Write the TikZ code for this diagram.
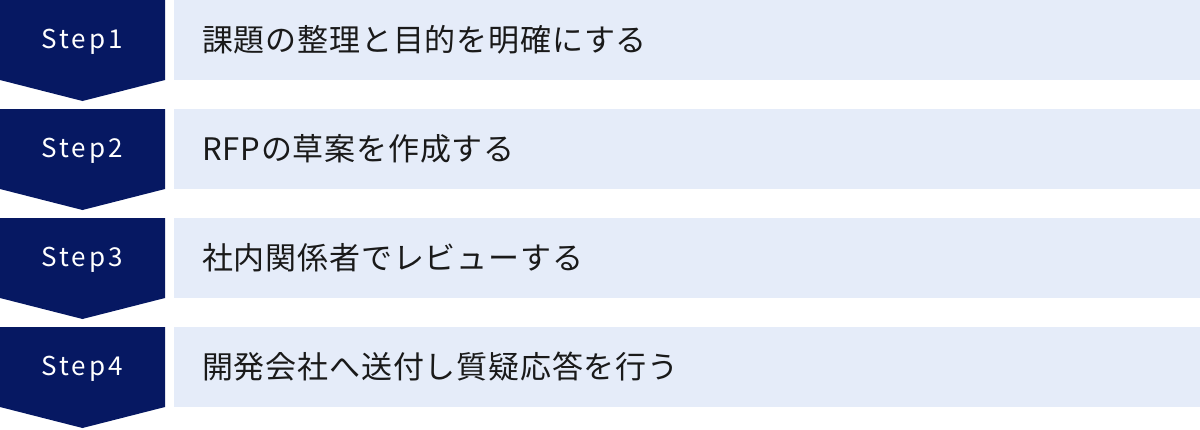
\documentclass[tikz,border=0pt]{standalone}
\usepackage{fontspec}
\newfontfamily\jpfont[LetterSpace=2.6]{Noto Sans CJK JP}
\newfontfamily\stepfont[LetterSpace=12]{Noto Sans CJK JP}
\usetikzlibrary{positioning, calc}
\definecolor{stepblue}{RGB}{6,24,98}
\definecolor{rowblue}{RGB}{229,236,249}
\definecolor{textblack}{RGB}{26,26,26}

\begin{document}
\begin{tikzpicture}[x=1pt, y=-1pt,
        steplabel/.style={text=white, inner sep=0pt, font=\stepfont\fontsize{26}{26}\selectfont},
        rowtext/.style={anchor=west, text=textblack, inner sep=0pt, font=\jpfont\fontsize{31}{31}\selectfont}]
    \useasboundingbox (0,0) rectangle (1200,429);

    \foreach \i/\txt in {1/課題の整理と目的を明確にする,
                         2/RFPの草案を作成する,
                         3/社内関係者でレビューする,
                         4/開発会社へ送付し質疑応答を行う}{
        \pgfmathsetmacro{\rowtop}{(\i-1)*109}

        % step chevron
        \fill[stepblue] (0,\rowtop) -- (165,\rowtop) -- (165,\rowtop+80)
            -- (82.5,\rowtop+101) -- (0,\rowtop+80) -- cycle;
        \node[steplabel] (step\i) at (82,\rowtop+42) {Step\i};

        % text bar
        \fill[rowblue] (174,\rowtop) rectangle (1200,\rowtop+80);
        \node[rowtext] (row\i) at (202,\rowtop+40) {\txt};
    }
\end{tikzpicture}
\end{document}
